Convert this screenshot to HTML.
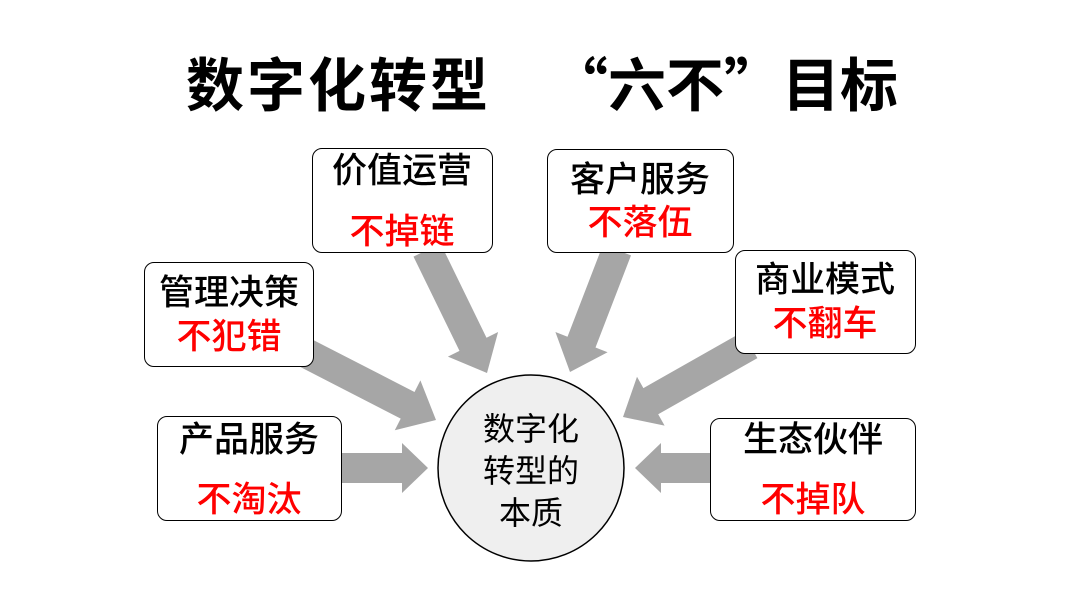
<!DOCTYPE html>
<html><head><meta charset="utf-8"><style>
body{margin:0;width:1080px;height:590px;background:#fff;position:relative;overflow:hidden;font-family:"Liberation Sans","Noto Sans CJK SC",sans-serif;}
.t{position:absolute;white-space:nowrap;font-weight:bold;font-family:"Noto Sans CJK SC",sans-serif;}
.box{position:absolute;border:1.5px solid #000;border-radius:10px;background:#fff;box-sizing:border-box;}
.l{position:absolute;white-space:nowrap;font-size:35px;font-weight:500;transform:translate(-50%,-50%);line-height:1;font-family:"Noto Sans CJK SC",sans-serif;}
.r{color:#f00;}
</style></head><body>
<div class="t" style="left:186px;top:48px;font-size:58px;line-height:66px;letter-spacing:3px;">数字化转型</div>
<div class="t" style="left:550px;top:48px;font-size:58px;line-height:66px;">“六不”目标</div>
<svg width="1080" height="590" style="position:absolute;left:0;top:0">
<g fill="#a6a6a6">
<polygon points="413.5,256.6 459.5,350.9 447.9,356.6 487,373 498.1,332 486.5,337.7 440.5,243.4"/>
<polygon points="603,244.6 567.5,336.7 555.4,332 570,372 607.6,352.2 595.5,347.5 631,255.4"/>
<polygon points="293.1,363.3 400.7,418.6 394.8,430.2 436,420 420.4,380.4 414.5,392 306.9,336.7"/>
<polygon points="742.6,331.9 643.4,388.1 637,376.8 623,417 664.6,425.6 658.2,414.3 757.4,358.1"/>
<polygon points="330,453 402,453 402,443 428,468 402,493 402,483 330,483"/>
<polygon points="720,453 661,453 661,443 635,468 661,493 661,483 720,483"/>
</g>
<circle cx="531" cy="468" r="93" fill="#efefef" stroke="#000" stroke-width="1.5"/>
</svg>
<div class="box" style="left:312px;top:148px;width:181px;height:105px"></div>
<div class="box" style="left:547px;top:149px;width:187px;height:104px"></div>
<div class="box" style="left:144px;top:262px;width:170px;height:105px"></div>
<div class="box" style="left:735px;top:250px;width:181px;height:104px"></div>
<div class="box" style="left:157px;top:416px;width:185px;height:105px"></div>
<div class="box" style="left:710px;top:418px;width:206px;height:103px"></div>
<div class="l" style="left:402px;top:168px">价值运营</div>
<div class="l r" style="left:402px;top:229px">不掉链</div>
<div class="l" style="left:640px;top:177px">客户服务</div>
<div class="l r" style="left:640px;top:220px">不落伍</div>
<div class="l" style="left:229px;top:290px">管理决策</div>
<div class="l r" style="left:229px;top:334px">不犯错</div>
<div class="l" style="left:825px;top:277px">商业模式</div>
<div class="l r" style="left:825px;top:321px">不翻车</div>
<div class="l" style="left:249px;top:437px">产品服务</div>
<div class="l r" style="left:249px;top:497px">不淘汰</div>
<div class="l" style="left:813px;top:437px">生态伙伴</div>
<div class="l r" style="left:813px;top:497px">不掉队</div>
<div class="l" style="left:531px;top:427px;font-weight:normal;font-size:32px">数字化</div>
<div class="l" style="left:531px;top:469px;font-weight:normal;font-size:32px">转型的</div>
<div class="l" style="left:531px;top:511px;font-weight:normal;font-size:32px">本质</div>
</body></html>
